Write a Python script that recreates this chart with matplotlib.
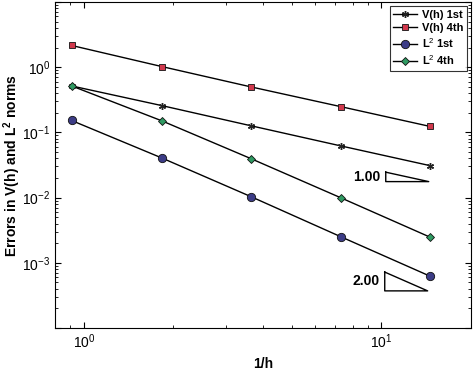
import matplotlib
matplotlib.use("Agg")
import matplotlib.pyplot as plt
import numpy as np
from matplotlib.ticker import LogLocator, LogFormatterMathtext, NullFormatter

plt.rcParams['font.family'] = ['Liberation Sans', 'DejaVu Sans']
plt.rcParams['mathtext.fontset'] = 'custom'
plt.rcParams['mathtext.rm'] = 'Liberation Sans'
plt.rcParams['mathtext.it'] = 'Liberation Sans:italic'
plt.rcParams['mathtext.bf'] = 'Liberation Sans:bold'

# data
inv_h = [0.91, 1.83, 3.65, 7.3, 14.6]
vh_1st = [0.515, 0.257, 0.126, 0.062, 0.0308]
vh_4th = [2.15, 1.02, 0.497, 0.248, 0.123]
l2_1st = [0.152, 0.0404, 0.0103, 0.00251, 0.00062]
l2_4th = [0.515, 0.150, 0.0394, 0.00993, 0.00246]
series_labels = ["V(h) 1st", "V(h) 4th", "L$^2$ 1st", "L$^2$ 4th"]

# slope triangles: (x start, x end, y at top-left, slope, label)
tri_specs = [(10.34, 14.42, 0.0245, 1.0, "1.00"),
             (10.26, 14.3, 0.00072, 2.0, "2.00")]

fig = plt.figure(figsize=(4.74, 3.87), dpi=100)
ax = fig.add_axes([0.116, 0.1525, 0.8777, 0.8425])

ax.loglog(inv_h, vh_1st, '-', color='black', lw=1.0, marker=(6, 2, 0), ms=5,
          mec='#222222', mfc='#222222', mew=1.0, label=series_labels[0])
ax.loglog(inv_h, vh_4th, '-', color='black', lw=1.0, marker='s', ms=5,
          mec='#111111', mfc='#d0384c', mew=0.6, label=series_labels[1])
ax.loglog(inv_h, l2_1st, '-', color='black', lw=1.0, marker='o', ms=6,
          mec='#111111', mfc='#3c3c86', mew=0.6, label=series_labels[2])
ax.loglog(inv_h, l2_4th, '-', color='black', lw=1.0, marker='D', ms=4.5,
          mec='#111111', mfc='#2f9a62', mew=0.6, label=series_labels[3])

for x0, x1, ytop, s, lab in tri_specs:
    ybot = ytop * (x0 / x1) ** s
    ax.plot([x0, x0, x1, x0], [ytop, ybot, ybot, ytop], color='black', lw=1.0)
    ax.text(x0 * 0.96, np.sqrt(ytop * ybot), lab, ha='right', va='center',
            fontsize=10, fontweight='bold')

ax.set_xlim(0.8, 20)
ax.set_ylim(1e-4, 10)

ax.xaxis.set_major_locator(LogLocator(base=10, numticks=10))
ax.yaxis.set_major_locator(LogLocator(base=10, numticks=10))
ax.xaxis.set_minor_locator(LogLocator(base=10, subs=np.arange(2, 10), numticks=20))
ax.yaxis.set_minor_locator(LogLocator(base=10, subs=np.arange(2, 10), numticks=20))
ax.xaxis.set_major_formatter(LogFormatterMathtext())
ax.xaxis.set_minor_formatter(NullFormatter())
ax.yaxis.set_minor_formatter(NullFormatter())

def yfmt(v, pos):
    e = int(round(np.log10(v)))
    if -3 <= e <= 0:
        return r'$10^{%d}$' % e
    return ''
ax.yaxis.set_major_formatter(plt.FuncFormatter(yfmt))

ax.tick_params(which='both', direction='in', top=True, right=True, labelsize=10)
ax.tick_params(which='major', length=4)
ax.tick_params(which='minor', length=2)

ax.set_xlabel("1/h", fontsize=10, fontweight='bold', labelpad=4)
ax.set_ylabel("Errors in V(h) and L$^\\mathbf{2}$ norms", fontsize=10, fontweight='bold')
ax.yaxis.set_label_coords(-0.078, 0.5)

leg = ax.legend(loc='upper right', frameon=True, fancybox=False,
                edgecolor='black', borderpad=0.3, handlelength=2.2, handletextpad=0.4,
                labelspacing=0.3, borderaxespad=0.4, prop={'weight': 'bold', 'size': 8})
leg.get_frame().set_linewidth(0.8)

fig.savefig("out.png", dpi=100)
